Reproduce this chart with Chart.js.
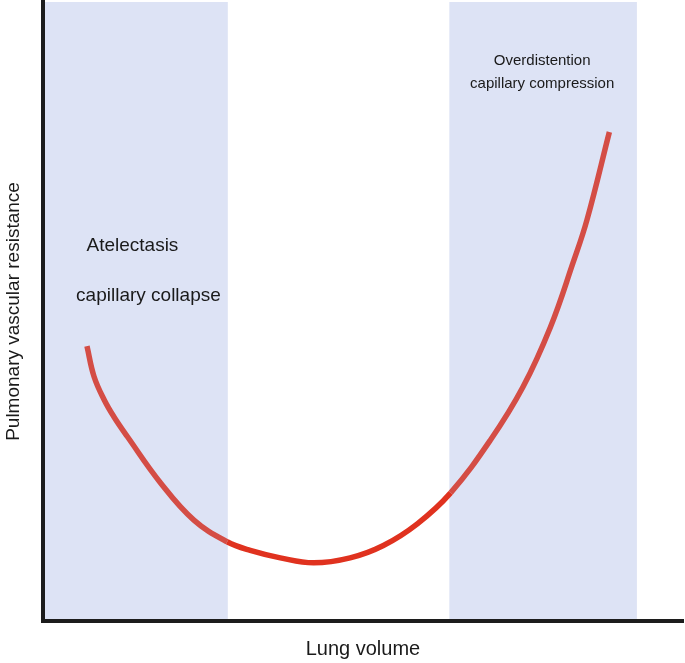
<!DOCTYPE html>
<html>
<head>
<meta charset="utf-8">
<script src="https://cdn.jsdelivr.net/npm/chart.js@4/dist/chart.umd.min.js"></script>
<style>
  html, body { margin: 0; padding: 0; background: #fff; }
  #wrap { width: 685px; height: 663px; }
</style>
</head>
<body>
<div id="wrap"><canvas id="chart" width="685" height="663"></canvas></div>
<script>
// lung volume (x) vs pulmonary vascular resistance (y), arbitrary units 0-100
const lungVolume = [6.9, 8.0, 9.6, 11.1, 13.2, 18.4, 23.6, 28.8, 32.4, 37.1, 42.3, 48.0, 53.2, 58.5, 63.7, 69.9, 75.0, 79.3, 82.8, 85.0, 88.5];
const resistance = [44.4, 39.5, 35.7, 33.0, 29.8, 22.3, 16.3, 12.8, 11.4, 10.2, 9.4, 10.2, 12.2, 15.7, 20.7, 29.2, 37.8, 47.5, 57.8, 64.8, 79.0];

// shaded zones along lung volume
const zoneStart = [0, 63.5];
const zoneEnd = [28.9, 92.8];

// zone labels
const labelText = ['Atelectasis', 'capillary collapse', 'Overdistention', 'capillary compression'];
const labelX = [14.0, 16.5, 78.0, 78.0];
const labelY = [60.6, 52.5, 90.5, 86.8];
const labelSize = [19, 19, 15, 15];

const FONT = '"Liberation Sans", Arial, Helvetica, sans-serif';
const inZone = v => zoneStart.some((s, i) => v >= s && v <= zoneEnd[i]);

const zonesPlugin = {
  id: 'zones',
  // bands go under the axes, so the axis lines stay on top
  beforeDraw(chart) {
    const { ctx, chartArea, scales: { x } } = chart;
    ctx.save();
    ctx.fillStyle = '#dde3f5';
    zoneStart.forEach((s, i) => {
      const x0 = x.getPixelForValue(s);
      const x1 = x.getPixelForValue(zoneEnd[i]);
      ctx.fillRect(x0, chartArea.top, x1 - x0, chartArea.bottom - chartArea.top);
    });
    ctx.restore();
  },
  afterDatasetsDraw(chart) {
    const { ctx, scales: { x, y } } = chart;
    ctx.save();
    ctx.fillStyle = '#1a1a1a';
    ctx.textAlign = 'center';
    ctx.textBaseline = 'middle';
    labelText.forEach((t, i) => {
      ctx.font = labelSize[i] + 'px ' + FONT;
      ctx.fillText(t, x.getPixelForValue(labelX[i]), y.getPixelForValue(labelY[i]));
    });
    ctx.restore();
  }
};

new Chart(document.getElementById('chart'), {
  type: 'line',
  data: {
    datasets: [{
      data: lungVolume.map((v, i) => ({ x: v, y: resistance[i] })),
      borderColor: '#e0321f',
      borderWidth: 5.5,
      borderCapStyle: 'butt',
      pointRadius: 0,
      tension: 0.4,
      fill: false,
      segment: {
        borderColor: c => inZone((c.p0.parsed.x + c.p1.parsed.x) / 2) ? '#d44d45' : '#e0321f'
      }
    }]
  },
  options: {
    responsive: false,
    animation: false,
    layout: { padding: { top: 2, right: 2, bottom: 2, left: 2 } },
    plugins: { legend: { display: false }, tooltip: { enabled: false } },
    scales: {
      x: {
        type: 'linear',
        min: 0,
        max: 100,
        grid: { display: false },
        ticks: { display: false },
        border: { display: true, color: '#1c1c1c', width: 4 },
        title: {
          display: true,
          text: 'Lung volume',
          color: '#1a1a1a',
          font: { family: FONT, size: 20 },
          padding: { top: 8, bottom: 0 }
        }
      },
      y: {
        type: 'linear',
        min: 0,
        max: 100,
        grid: { display: false },
        ticks: { display: false },
        border: { display: true, color: '#1c1c1c', width: 4 },
        title: {
          display: true,
          text: 'Pulmonary vascular resistance',
          color: '#1a1a1a',
          font: { family: FONT, size: 19 },
          padding: { top: 0, bottom: 10 }
        }
      }
    }
  },
  plugins: [zonesPlugin]
});
</script>
</body>
</html>
